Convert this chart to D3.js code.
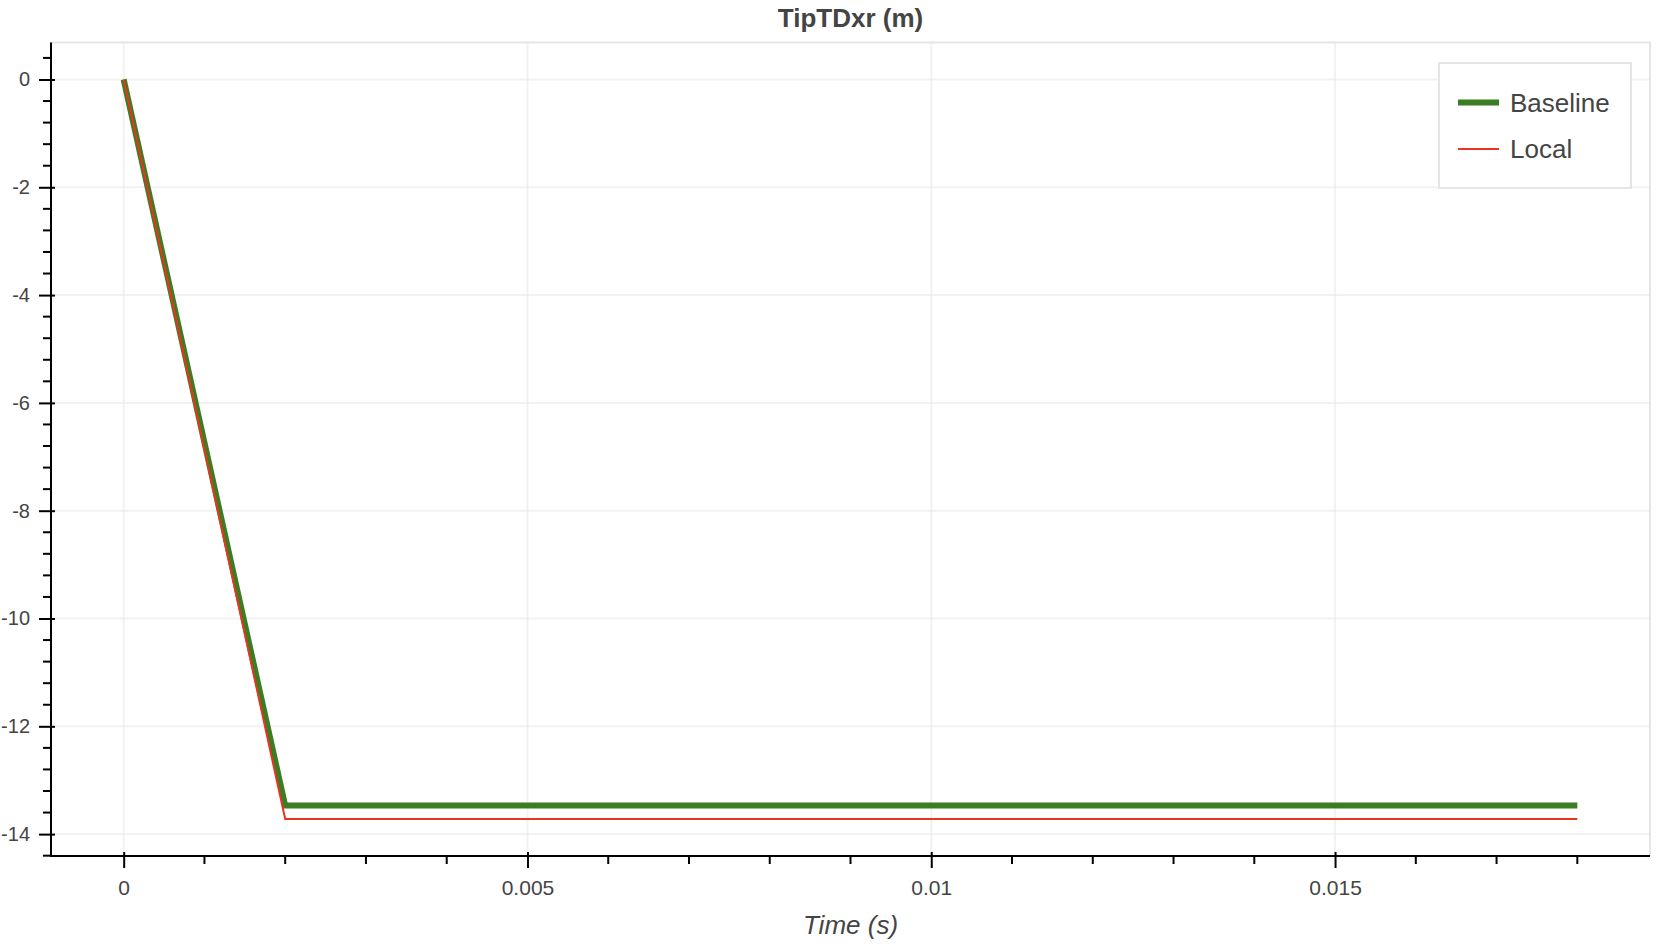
<!DOCTYPE html>
<html>
<head>
<meta charset="utf-8">
<script src="https://cdn.jsdelivr.net/npm/d3@7"></script>
<style>
  html, body { margin: 0; padding: 0; background: #fff; }
  svg { display: block; font-family: "Liberation Sans", Arial, Helvetica, sans-serif; }
</style>
</head>
<body>
<svg id="chart"></svg>
<script>
// data
var timeValues = [0, 0.002, 0.004, 0.006, 0.008, 0.010, 0.012, 0.014, 0.016, 0.018];
var baselineValues = [0, -13.47, -13.47, -13.47, -13.47, -13.47, -13.47, -13.47, -13.47, -13.47];
var localValues = [0, -13.72, -13.72, -13.72, -13.72, -13.72, -13.72, -13.72, -13.72, -13.72];
var seriesNames = ['Baseline', 'Local'];
var xTickValues = [0, 0.005, 0.01, 0.015];
var xTickLabels = ['0', '0.005', '0.01', '0.015'];
var yTickValues = [0, -2, -4, -6, -8, -10, -12, -14];
var yTickLabels = ['0', '-2', '-4', '-6', '-8', '-10', '-12', '-14'];

var width = 1660, height = 944;
var margin = {top: 42.5, right: 10, bottom: 88, left: 51};
var plotW = width - margin.left - margin.right;
var plotH = height - margin.top - margin.bottom;

var svg = d3.select('#chart').attr('width', width).attr('height', height);
var g = svg.append('g').attr('transform', 'translate(' + margin.left + ',' + margin.top + ')');

// padded ranges, 5% each side like the original
var xExt = d3.extent(timeValues);
var xPad = (xExt[1] - xExt[0]) * 0.05;
var yMin = d3.min(baselineValues.concat(localValues));
var yMax = d3.max(baselineValues.concat(localValues));
var yPad = (yMax - yMin) * 0.05;

var x = d3.scaleLinear().domain([xExt[0] - xPad, xExt[1] + xPad]).range([0, plotW]);
var y = d3.scaleLinear().domain([yMin - yPad, yMax + yPad]).range([plotH, 0]);

// grid
g.append('g').selectAll('line.xg').data(xTickValues).enter().append('line')
    .attr('x1', function(d) { return x(d); }).attr('x2', function(d) { return x(d); })
    .attr('y1', 0).attr('y2', plotH)
    .style('stroke', '#e5e5e5').style('stroke-opacity', 0.5).style('stroke-width', 2);
g.append('g').selectAll('line.yg').data(yTickValues).enter().append('line')
    .attr('x1', 0).attr('x2', plotW)
    .attr('y1', function(d) { return y(d); }).attr('y2', function(d) { return y(d); })
    .style('stroke', '#e5e5e5').style('stroke-opacity', 0.5).style('stroke-width', 2);

// outline on top and right
g.append('path')
    .attr('d', 'M0,0H' + plotW + 'V' + plotH)
    .style('fill', 'none').style('stroke', '#e5e5e5').style('stroke-width', 2);

// lines
var line = d3.line()
    .x(function(d) { return x(d[0]); })
    .y(function(d) { return y(d[1]); });

g.append('path')
    .datum(d3.zip(timeValues, baselineValues))
    .attr('d', line)
    .style('fill', 'none').style('stroke', '#3a7d22').style('stroke-width', 6)
    .style('stroke-linejoin', 'miter');

g.append('path')
    .datum(d3.zip(timeValues, localValues))
    .attr('d', line)
    .style('fill', 'none').style('stroke', '#eb3323').style('stroke-width', 2);

// minor ticks
var xMinor = d3.range(-0.000, 0.0189, 0.001).filter(function(v) {
    return xTickValues.every(function(t) { return Math.abs(t - v) > 1e-9; });
});
var yMinor = d3.range(0.4, -14.41, -0.4).filter(function(v) {
    return yTickValues.every(function(t) { return Math.abs(t - v) > 1e-9; });
});

var xAxis = d3.axisBottom(x).tickValues(xTickValues)
    .tickFormat(function(d, i) { return xTickLabels[i]; })
    .tickSizeInner(12).tickSizeOuter(0).tickPadding(12);
var yAxis = d3.axisLeft(y).tickValues(yTickValues)
    .tickFormat(function(d, i) { return yTickLabels[i]; })
    .tickSizeInner(12).tickSizeOuter(0).tickPadding(9);

var gx = g.append('g').attr('class', 'x-axis')
    .attr('transform', 'translate(0,' + plotH + ')')
    .call(xAxis);
var gy = g.append('g').attr('class', 'y-axis').call(yAxis);

gx.selectAll('line').clone().attr('y1', -4).attr('y2', 0);
gy.selectAll('line').clone().attr('x1', 4).attr('x2', 0);

gx.append('g').selectAll('line').data(xMinor).enter().append('line')
    .attr('x1', function(d) { return x(d); }).attr('x2', function(d) { return x(d); })
    .attr('y1', 0).attr('y2', 8);
gy.append('g').selectAll('line').data(yMinor).enter().append('line')
    .attr('y1', function(d) { return y(d); }).attr('y2', function(d) { return y(d); })
    .attr('x1', 0).attr('x2', -8);

[gx, gy].forEach(function(a) {
    a.select('.domain').style('stroke', '#000').style('stroke-width', 2);
    a.selectAll('line').style('stroke', '#000').style('stroke-width', 2);
    a.selectAll('text').style('fill', '#444').style('font-size', '21px')
        .style('font-family', '"Liberation Sans", Arial, sans-serif');
});
// y labels a touch smaller so "-14" stays inside the page
gy.selectAll('text').style('font-size', '20px');
// x axis line runs the full width
gx.select('.domain').attr('d', 'M-1,0H' + plotW);
gy.select('.domain').attr('d', 'M0,0V' + (plotH + 1));

// title and axis label
svg.append('text')
    .attr('x', margin.left + plotW / 2).attr('y', 27)
    .attr('text-anchor', 'middle')
    .style('font-size', '26px').style('font-weight', 'bold').style('fill', '#444')
    .text('TipTDxr (m)');

svg.append('text')
    .attr('x', margin.left + plotW / 2).attr('y', 934)
    .attr('text-anchor', 'middle')
    .style('font-size', '26px').style('font-style', 'italic').style('fill', '#444')
    .text('Time (s)');

// legend
var legend = svg.append('g').attr('transform', 'translate(1439,63)');
legend.append('rect')
    .attr('width', 192).attr('height', 125)
    .style('fill', '#fff').style('stroke', '#e5e5e5').style('stroke-width', 2);

var legendColors = ['#3a7d22', '#eb3323'];
var legendWidths = [6, 2];
var items = legend.selectAll('g.item').data(seriesNames).enter().append('g')
    .attr('transform', function(d, i) { return 'translate(0,' + (39.5 + i * 46.5) + ')'; });
items.append('line')
    .attr('x1', 19).attr('x2', 60).attr('y1', 0).attr('y2', 0)
    .style('stroke', function(d, i) { return legendColors[i]; })
    .style('stroke-width', function(d, i) { return legendWidths[i]; });
items.append('text')
    .attr('x', 71).attr('y', 0).attr('dy', '0.35em')
    .style('font-size', '26px').style('fill', '#444')
    .text(function(d) { return d; });
</script>
</body>
</html>
